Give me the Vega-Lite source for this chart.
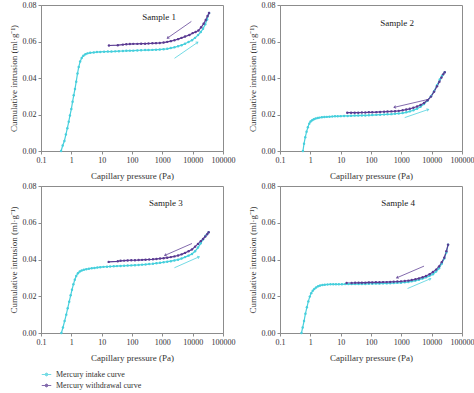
{
  "$schema": "https://vega.github.io/schema/vega-lite/v6.json",
  "padding": {"left": 8, "top": 0, "right": 5, "bottom": 5},
  "config": {
    "font": "Liberation Serif",
    "view": {"stroke": "#8c8c8c", "strokeWidth": 1},
    "axis": {"grid": false, "domainColor": "#8c8c8c", "tickColor": "#8c8c8c", "tickSize": 3, "labelFontSize": 8, "titleFontSize": 9, "titleFontWeight": "normal", "labelColor": "#333", "titleColor": "#333", "labelFont": "Liberation Serif", "titleFont": "Liberation Serif", "labelOverlap": false, "labelFlush": false, "labelPadding": 2},
    "axisX": {"titlePadding": 7},
    "axisY": {"titlePadding": 4},
    "legend": {"labelFont": "Liberation Serif", "labelFontSize": 8, "labelColor": "#333"}
  },
  "datasets": {"all": [
    {"s":"Sample 1","k":"pt","c":"Mercury intake curve","p":0.46,"v":0.000},
    {"s":"Sample 1","k":"pt","c":"Mercury intake curve","p":0.52,"v":0.003},
    {"s":"Sample 1","k":"pt","c":"Mercury intake curve","p":0.59,"v":0.0055},
    {"s":"Sample 1","k":"pt","c":"Mercury intake curve","p":0.66,"v":0.009},
    {"s":"Sample 1","k":"pt","c":"Mercury intake curve","p":0.74,"v":0.0125},
    {"s":"Sample 1","k":"pt","c":"Mercury intake curve","p":0.82,"v":0.016},
    {"s":"Sample 1","k":"pt","c":"Mercury intake curve","p":0.9,"v":0.0195},
    {"s":"Sample 1","k":"pt","c":"Mercury intake curve","p":1.0,"v":0.023},
    {"s":"Sample 1","k":"pt","c":"Mercury intake curve","p":1.1,"v":0.027},
    {"s":"Sample 1","k":"pt","c":"Mercury intake curve","p":1.2,"v":0.0305},
    {"s":"Sample 1","k":"pt","c":"Mercury intake curve","p":1.32,"v":0.034},
    {"s":"Sample 1","k":"pt","c":"Mercury intake curve","p":1.45,"v":0.038},
    {"s":"Sample 1","k":"pt","c":"Mercury intake curve","p":1.6,"v":0.0425},
    {"s":"Sample 1","k":"pt","c":"Mercury intake curve","p":1.75,"v":0.046},
    {"s":"Sample 1","k":"pt","c":"Mercury intake curve","p":1.95,"v":0.049},
    {"s":"Sample 1","k":"pt","c":"Mercury intake curve","p":2.2,"v":0.051},
    {"s":"Sample 1","k":"pt","c":"Mercury intake curve","p":2.5,"v":0.0522},
    {"s":"Sample 1","k":"pt","c":"Mercury intake curve","p":2.9,"v":0.053},
    {"s":"Sample 1","k":"pt","c":"Mercury intake curve","p":3.4,"v":0.0535},
    {"s":"Sample 1","k":"pt","c":"Mercury intake curve","p":4.2,"v":0.0538},
    {"s":"Sample 1","k":"pt","c":"Mercury intake curve","p":5.5,"v":0.054},
    {"s":"Sample 1","k":"pt","c":"Mercury intake curve","p":7,"v":0.0542},
    {"s":"Sample 1","k":"pt","c":"Mercury intake curve","p":9,"v":0.0543},
    {"s":"Sample 1","k":"pt","c":"Mercury intake curve","p":12,"v":0.0544},
    {"s":"Sample 1","k":"pt","c":"Mercury intake curve","p":16,"v":0.0545},
    {"s":"Sample 1","k":"pt","c":"Mercury intake curve","p":21,"v":0.0545},
    {"s":"Sample 1","k":"pt","c":"Mercury intake curve","p":28,"v":0.0546},
    {"s":"Sample 1","k":"pt","c":"Mercury intake curve","p":37,"v":0.0547},
    {"s":"Sample 1","k":"pt","c":"Mercury intake curve","p":50,"v":0.0548},
    {"s":"Sample 1","k":"pt","c":"Mercury intake curve","p":65,"v":0.0549},
    {"s":"Sample 1","k":"pt","c":"Mercury intake curve","p":85,"v":0.055},
    {"s":"Sample 1","k":"pt","c":"Mercury intake curve","p":110,"v":0.055},
    {"s":"Sample 1","k":"pt","c":"Mercury intake curve","p":150,"v":0.0551},
    {"s":"Sample 1","k":"pt","c":"Mercury intake curve","p":200,"v":0.0552},
    {"s":"Sample 1","k":"pt","c":"Mercury intake curve","p":270,"v":0.0553},
    {"s":"Sample 1","k":"pt","c":"Mercury intake curve","p":350,"v":0.0553},
    {"s":"Sample 1","k":"pt","c":"Mercury intake curve","p":470,"v":0.0554},
    {"s":"Sample 1","k":"pt","c":"Mercury intake curve","p":620,"v":0.0555},
    {"s":"Sample 1","k":"pt","c":"Mercury intake curve","p":820,"v":0.0556},
    {"s":"Sample 1","k":"pt","c":"Mercury intake curve","p":1100,"v":0.0558},
    {"s":"Sample 1","k":"pt","c":"Mercury intake curve","p":1450,"v":0.056},
    {"s":"Sample 1","k":"pt","c":"Mercury intake curve","p":1900,"v":0.0564},
    {"s":"Sample 1","k":"pt","c":"Mercury intake curve","p":2500,"v":0.0568},
    {"s":"Sample 1","k":"pt","c":"Mercury intake curve","p":3300,"v":0.0574},
    {"s":"Sample 1","k":"pt","c":"Mercury intake curve","p":4300,"v":0.058},
    {"s":"Sample 1","k":"pt","c":"Mercury intake curve","p":5600,"v":0.0588},
    {"s":"Sample 1","k":"pt","c":"Mercury intake curve","p":7300,"v":0.0597},
    {"s":"Sample 1","k":"pt","c":"Mercury intake curve","p":9500,"v":0.0607},
    {"s":"Sample 1","k":"pt","c":"Mercury intake curve","p":12000,"v":0.062},
    {"s":"Sample 1","k":"pt","c":"Mercury intake curve","p":15000,"v":0.0635},
    {"s":"Sample 1","k":"pt","c":"Mercury intake curve","p":18500,"v":0.0652},
    {"s":"Sample 1","k":"pt","c":"Mercury intake curve","p":22000,"v":0.067},
    {"s":"Sample 1","k":"pt","c":"Mercury intake curve","p":26000,"v":0.0695},
    {"s":"Sample 1","k":"pt","c":"Mercury intake curve","p":30000,"v":0.072},
    {"s":"Sample 1","k":"pt","c":"Mercury intake curve","p":34700,"v":0.0756},
    {"s":"Sample 1","k":"pt","c":"Mercury withdrawal curve","p":34700,"v":0.0756},
    {"s":"Sample 1","k":"pt","c":"Mercury withdrawal curve","p":31000,"v":0.074},
    {"s":"Sample 1","k":"pt","c":"Mercury withdrawal curve","p":27000,"v":0.0718},
    {"s":"Sample 1","k":"pt","c":"Mercury withdrawal curve","p":23000,"v":0.0697},
    {"s":"Sample 1","k":"pt","c":"Mercury withdrawal curve","p":19000,"v":0.0678},
    {"s":"Sample 1","k":"pt","c":"Mercury withdrawal curve","p":15500,"v":0.066},
    {"s":"Sample 1","k":"pt","c":"Mercury withdrawal curve","p":12500,"v":0.0652},
    {"s":"Sample 1","k":"pt","c":"Mercury withdrawal curve","p":10000,"v":0.0646},
    {"s":"Sample 1","k":"pt","c":"Mercury withdrawal curve","p":7800,"v":0.0636},
    {"s":"Sample 1","k":"pt","c":"Mercury withdrawal curve","p":5600,"v":0.0627},
    {"s":"Sample 1","k":"pt","c":"Mercury withdrawal curve","p":4300,"v":0.062},
    {"s":"Sample 1","k":"pt","c":"Mercury withdrawal curve","p":3300,"v":0.0613},
    {"s":"Sample 1","k":"pt","c":"Mercury withdrawal curve","p":2500,"v":0.0607},
    {"s":"Sample 1","k":"pt","c":"Mercury withdrawal curve","p":1900,"v":0.0602},
    {"s":"Sample 1","k":"pt","c":"Mercury withdrawal curve","p":1450,"v":0.0598},
    {"s":"Sample 1","k":"pt","c":"Mercury withdrawal curve","p":1100,"v":0.0594},
    {"s":"Sample 1","k":"pt","c":"Mercury withdrawal curve","p":820,"v":0.0592},
    {"s":"Sample 1","k":"pt","c":"Mercury withdrawal curve","p":620,"v":0.0591},
    {"s":"Sample 1","k":"pt","c":"Mercury withdrawal curve","p":470,"v":0.059},
    {"s":"Sample 1","k":"pt","c":"Mercury withdrawal curve","p":350,"v":0.0589},
    {"s":"Sample 1","k":"pt","c":"Mercury withdrawal curve","p":270,"v":0.0588},
    {"s":"Sample 1","k":"pt","c":"Mercury withdrawal curve","p":200,"v":0.0588},
    {"s":"Sample 1","k":"pt","c":"Mercury withdrawal curve","p":150,"v":0.0587},
    {"s":"Sample 1","k":"pt","c":"Mercury withdrawal curve","p":110,"v":0.0587},
    {"s":"Sample 1","k":"pt","c":"Mercury withdrawal curve","p":85,"v":0.0586},
    {"s":"Sample 1","k":"pt","c":"Mercury withdrawal curve","p":65,"v":0.0585},
    {"s":"Sample 1","k":"pt","c":"Mercury withdrawal curve","p":50,"v":0.0583},
    {"s":"Sample 1","k":"pt","c":"Mercury withdrawal curve","p":34,"v":0.058},
    {"s":"Sample 1","k":"pt","c":"Mercury withdrawal curve","p":17.4,"v":0.0578},
    {"s":"Sample 1","k":"arrow","c":"Mercury withdrawal curve","p":9060,"v":0.071,"p2":1455,"v2":0.0618},
    {"s":"Sample 1","k":"arrow","c":"Mercury intake curve","p":2520,"v":0.0508,"p2":14800,"v2":0.0596},
    {"s":"Sample 1","k":"label","p":780,"v":0.0734,"t":"Sample 1"},

    {"s":"Sample 2","k":"pt","c":"Mercury intake curve","p":0.57,"v":0.000},
    {"s":"Sample 2","k":"pt","c":"Mercury intake curve","p":0.62,"v":0.004},
    {"s":"Sample 2","k":"pt","c":"Mercury intake curve","p":0.68,"v":0.0075},
    {"s":"Sample 2","k":"pt","c":"Mercury intake curve","p":0.75,"v":0.0105},
    {"s":"Sample 2","k":"pt","c":"Mercury intake curve","p":0.83,"v":0.013},
    {"s":"Sample 2","k":"pt","c":"Mercury intake curve","p":0.92,"v":0.015},
    {"s":"Sample 2","k":"pt","c":"Mercury intake curve","p":1.02,"v":0.0162},
    {"s":"Sample 2","k":"pt","c":"Mercury intake curve","p":1.15,"v":0.0169},
    {"s":"Sample 2","k":"pt","c":"Mercury intake curve","p":1.3,"v":0.0174},
    {"s":"Sample 2","k":"pt","c":"Mercury intake curve","p":1.5,"v":0.0178},
    {"s":"Sample 2","k":"pt","c":"Mercury intake curve","p":1.75,"v":0.0181},
    {"s":"Sample 2","k":"pt","c":"Mercury intake curve","p":2.0,"v":0.0183},
    {"s":"Sample 2","k":"pt","c":"Mercury intake curve","p":2.4,"v":0.0185},
    {"s":"Sample 2","k":"pt","c":"Mercury intake curve","p":2.9,"v":0.0186},
    {"s":"Sample 2","k":"pt","c":"Mercury intake curve","p":3.5,"v":0.0187},
    {"s":"Sample 2","k":"pt","c":"Mercury intake curve","p":4.3,"v":0.0188},
    {"s":"Sample 2","k":"pt","c":"Mercury intake curve","p":5.3,"v":0.0189},
    {"s":"Sample 2","k":"pt","c":"Mercury intake curve","p":6.5,"v":0.019},
    {"s":"Sample 2","k":"pt","c":"Mercury intake curve","p":8,"v":0.019},
    {"s":"Sample 2","k":"pt","c":"Mercury intake curve","p":10,"v":0.0191},
    {"s":"Sample 2","k":"pt","c":"Mercury intake curve","p":13,"v":0.0192},
    {"s":"Sample 2","k":"pt","c":"Mercury intake curve","p":17,"v":0.0192},
    {"s":"Sample 2","k":"pt","c":"Mercury intake curve","p":22,"v":0.0193},
    {"s":"Sample 2","k":"pt","c":"Mercury intake curve","p":29,"v":0.0194},
    {"s":"Sample 2","k":"pt","c":"Mercury intake curve","p":38,"v":0.0194},
    {"s":"Sample 2","k":"pt","c":"Mercury intake curve","p":50,"v":0.0195},
    {"s":"Sample 2","k":"pt","c":"Mercury intake curve","p":65,"v":0.0195},
    {"s":"Sample 2","k":"pt","c":"Mercury intake curve","p":85,"v":0.0196},
    {"s":"Sample 2","k":"pt","c":"Mercury intake curve","p":110,"v":0.0197},
    {"s":"Sample 2","k":"pt","c":"Mercury intake curve","p":150,"v":0.0198},
    {"s":"Sample 2","k":"pt","c":"Mercury intake curve","p":200,"v":0.0199},
    {"s":"Sample 2","k":"pt","c":"Mercury intake curve","p":270,"v":0.02},
    {"s":"Sample 2","k":"pt","c":"Mercury intake curve","p":350,"v":0.0201},
    {"s":"Sample 2","k":"pt","c":"Mercury intake curve","p":470,"v":0.0202},
    {"s":"Sample 2","k":"pt","c":"Mercury intake curve","p":620,"v":0.0204},
    {"s":"Sample 2","k":"pt","c":"Mercury intake curve","p":820,"v":0.0206},
    {"s":"Sample 2","k":"pt","c":"Mercury intake curve","p":1100,"v":0.0208},
    {"s":"Sample 2","k":"pt","c":"Mercury intake curve","p":1450,"v":0.0212},
    {"s":"Sample 2","k":"pt","c":"Mercury intake curve","p":1900,"v":0.0217},
    {"s":"Sample 2","k":"pt","c":"Mercury intake curve","p":2500,"v":0.0223},
    {"s":"Sample 2","k":"pt","c":"Mercury intake curve","p":3300,"v":0.0232},
    {"s":"Sample 2","k":"pt","c":"Mercury intake curve","p":4300,"v":0.0243},
    {"s":"Sample 2","k":"pt","c":"Mercury intake curve","p":5600,"v":0.0257},
    {"s":"Sample 2","k":"pt","c":"Mercury intake curve","p":7300,"v":0.0276},
    {"s":"Sample 2","k":"pt","c":"Mercury intake curve","p":9500,"v":0.03},
    {"s":"Sample 2","k":"pt","c":"Mercury intake curve","p":12000,"v":0.0328},
    {"s":"Sample 2","k":"pt","c":"Mercury intake curve","p":15000,"v":0.036},
    {"s":"Sample 2","k":"pt","c":"Mercury intake curve","p":18500,"v":0.0392},
    {"s":"Sample 2","k":"pt","c":"Mercury intake curve","p":22000,"v":0.0412},
    {"s":"Sample 2","k":"pt","c":"Mercury intake curve","p":27000,"v":0.0432},
    {"s":"Sample 2","k":"pt","c":"Mercury withdrawal curve","p":27000,"v":0.0432},
    {"s":"Sample 2","k":"pt","c":"Mercury withdrawal curve","p":24000,"v":0.042},
    {"s":"Sample 2","k":"pt","c":"Mercury withdrawal curve","p":21000,"v":0.0403},
    {"s":"Sample 2","k":"pt","c":"Mercury withdrawal curve","p":18000,"v":0.038},
    {"s":"Sample 2","k":"pt","c":"Mercury withdrawal curve","p":15000,"v":0.0355},
    {"s":"Sample 2","k":"pt","c":"Mercury withdrawal curve","p":12000,"v":0.0325},
    {"s":"Sample 2","k":"pt","c":"Mercury withdrawal curve","p":9500,"v":0.0298},
    {"s":"Sample 2","k":"pt","c":"Mercury withdrawal curve","p":7300,"v":0.0278},
    {"s":"Sample 2","k":"pt","c":"Mercury withdrawal curve","p":5600,"v":0.0263},
    {"s":"Sample 2","k":"pt","c":"Mercury withdrawal curve","p":4300,"v":0.0252},
    {"s":"Sample 2","k":"pt","c":"Mercury withdrawal curve","p":3300,"v":0.0244},
    {"s":"Sample 2","k":"pt","c":"Mercury withdrawal curve","p":2500,"v":0.0237},
    {"s":"Sample 2","k":"pt","c":"Mercury withdrawal curve","p":1900,"v":0.0231},
    {"s":"Sample 2","k":"pt","c":"Mercury withdrawal curve","p":1450,"v":0.0227},
    {"s":"Sample 2","k":"pt","c":"Mercury withdrawal curve","p":1100,"v":0.0223},
    {"s":"Sample 2","k":"pt","c":"Mercury withdrawal curve","p":820,"v":0.022},
    {"s":"Sample 2","k":"pt","c":"Mercury withdrawal curve","p":620,"v":0.0218},
    {"s":"Sample 2","k":"pt","c":"Mercury withdrawal curve","p":470,"v":0.0217},
    {"s":"Sample 2","k":"pt","c":"Mercury withdrawal curve","p":350,"v":0.0216},
    {"s":"Sample 2","k":"pt","c":"Mercury withdrawal curve","p":270,"v":0.0215},
    {"s":"Sample 2","k":"pt","c":"Mercury withdrawal curve","p":200,"v":0.0214},
    {"s":"Sample 2","k":"pt","c":"Mercury withdrawal curve","p":150,"v":0.0213},
    {"s":"Sample 2","k":"pt","c":"Mercury withdrawal curve","p":110,"v":0.0212},
    {"s":"Sample 2","k":"pt","c":"Mercury withdrawal curve","p":85,"v":0.0212},
    {"s":"Sample 2","k":"pt","c":"Mercury withdrawal curve","p":65,"v":0.0211},
    {"s":"Sample 2","k":"pt","c":"Mercury withdrawal curve","p":50,"v":0.0211},
    {"s":"Sample 2","k":"pt","c":"Mercury withdrawal curve","p":38,"v":0.021},
    {"s":"Sample 2","k":"pt","c":"Mercury withdrawal curve","p":29,"v":0.021},
    {"s":"Sample 2","k":"pt","c":"Mercury withdrawal curve","p":22,"v":0.021},
    {"s":"Sample 2","k":"pt","c":"Mercury withdrawal curve","p":16.5,"v":0.021},
    {"s":"Sample 2","k":"arrow","c":"Mercury withdrawal curve","p":8300,"v":0.0284,"p2":575,"v2":0.0239},
    {"s":"Sample 2","k":"arrow","c":"Mercury intake curve","p":1290,"v":0.0183,"p2":7900,"v2":0.0228},
    {"s":"Sample 2","k":"label","p":730,"v":0.070,"t":"Sample 2"},

    {"s":"Sample 3","k":"pt","c":"Mercury intake curve","p":0.47,"v":0.000},
    {"s":"Sample 3","k":"pt","c":"Mercury intake curve","p":0.53,"v":0.003},
    {"s":"Sample 3","k":"pt","c":"Mercury intake curve","p":0.6,"v":0.0065},
    {"s":"Sample 3","k":"pt","c":"Mercury intake curve","p":0.68,"v":0.01},
    {"s":"Sample 3","k":"pt","c":"Mercury intake curve","p":0.76,"v":0.0135},
    {"s":"Sample 3","k":"pt","c":"Mercury intake curve","p":0.85,"v":0.017},
    {"s":"Sample 3","k":"pt","c":"Mercury intake curve","p":0.95,"v":0.0205},
    {"s":"Sample 3","k":"pt","c":"Mercury intake curve","p":1.05,"v":0.0235},
    {"s":"Sample 3","k":"pt","c":"Mercury intake curve","p":1.17,"v":0.0265},
    {"s":"Sample 3","k":"pt","c":"Mercury intake curve","p":1.3,"v":0.029},
    {"s":"Sample 3","k":"pt","c":"Mercury intake curve","p":1.45,"v":0.031},
    {"s":"Sample 3","k":"pt","c":"Mercury intake curve","p":1.65,"v":0.0325},
    {"s":"Sample 3","k":"pt","c":"Mercury intake curve","p":1.9,"v":0.0335},
    {"s":"Sample 3","k":"pt","c":"Mercury intake curve","p":2.2,"v":0.034},
    {"s":"Sample 3","k":"pt","c":"Mercury intake curve","p":2.6,"v":0.0344},
    {"s":"Sample 3","k":"pt","c":"Mercury intake curve","p":3.1,"v":0.0347},
    {"s":"Sample 3","k":"pt","c":"Mercury intake curve","p":3.8,"v":0.035},
    {"s":"Sample 3","k":"pt","c":"Mercury intake curve","p":4.7,"v":0.0352},
    {"s":"Sample 3","k":"pt","c":"Mercury intake curve","p":5.8,"v":0.0354},
    {"s":"Sample 3","k":"pt","c":"Mercury intake curve","p":7.2,"v":0.0356},
    {"s":"Sample 3","k":"pt","c":"Mercury intake curve","p":9,"v":0.0358},
    {"s":"Sample 3","k":"pt","c":"Mercury intake curve","p":11.5,"v":0.036},
    {"s":"Sample 3","k":"pt","c":"Mercury intake curve","p":15,"v":0.0361},
    {"s":"Sample 3","k":"pt","c":"Mercury intake curve","p":19,"v":0.0362},
    {"s":"Sample 3","k":"pt","c":"Mercury intake curve","p":25,"v":0.0363},
    {"s":"Sample 3","k":"pt","c":"Mercury intake curve","p":32,"v":0.0364},
    {"s":"Sample 3","k":"pt","c":"Mercury intake curve","p":42,"v":0.0365},
    {"s":"Sample 3","k":"pt","c":"Mercury intake curve","p":55,"v":0.0366},
    {"s":"Sample 3","k":"pt","c":"Mercury intake curve","p":72,"v":0.0367},
    {"s":"Sample 3","k":"pt","c":"Mercury intake curve","p":95,"v":0.0368},
    {"s":"Sample 3","k":"pt","c":"Mercury intake curve","p":125,"v":0.0369},
    {"s":"Sample 3","k":"pt","c":"Mercury intake curve","p":165,"v":0.037},
    {"s":"Sample 3","k":"pt","c":"Mercury intake curve","p":215,"v":0.0372},
    {"s":"Sample 3","k":"pt","c":"Mercury intake curve","p":280,"v":0.0373},
    {"s":"Sample 3","k":"pt","c":"Mercury intake curve","p":370,"v":0.0375},
    {"s":"Sample 3","k":"pt","c":"Mercury intake curve","p":490,"v":0.0377},
    {"s":"Sample 3","k":"pt","c":"Mercury intake curve","p":640,"v":0.038},
    {"s":"Sample 3","k":"pt","c":"Mercury intake curve","p":840,"v":0.0382},
    {"s":"Sample 3","k":"pt","c":"Mercury intake curve","p":1100,"v":0.0385},
    {"s":"Sample 3","k":"pt","c":"Mercury intake curve","p":1450,"v":0.0388},
    {"s":"Sample 3","k":"pt","c":"Mercury intake curve","p":1900,"v":0.0391},
    {"s":"Sample 3","k":"pt","c":"Mercury intake curve","p":2500,"v":0.0395},
    {"s":"Sample 3","k":"pt","c":"Mercury intake curve","p":3300,"v":0.0399},
    {"s":"Sample 3","k":"pt","c":"Mercury intake curve","p":4300,"v":0.0405},
    {"s":"Sample 3","k":"pt","c":"Mercury intake curve","p":5600,"v":0.0413},
    {"s":"Sample 3","k":"pt","c":"Mercury intake curve","p":7300,"v":0.0421},
    {"s":"Sample 3","k":"pt","c":"Mercury intake curve","p":9500,"v":0.043},
    {"s":"Sample 3","k":"pt","c":"Mercury intake curve","p":12000,"v":0.0445},
    {"s":"Sample 3","k":"pt","c":"Mercury intake curve","p":15000,"v":0.0465},
    {"s":"Sample 3","k":"pt","c":"Mercury intake curve","p":18500,"v":0.0488},
    {"s":"Sample 3","k":"pt","c":"Mercury intake curve","p":22000,"v":0.051},
    {"s":"Sample 3","k":"pt","c":"Mercury intake curve","p":27000,"v":0.053},
    {"s":"Sample 3","k":"pt","c":"Mercury intake curve","p":33700,"v":0.0548},
    {"s":"Sample 3","k":"pt","c":"Mercury withdrawal curve","p":33700,"v":0.0548},
    {"s":"Sample 3","k":"pt","c":"Mercury withdrawal curve","p":30000,"v":0.0537},
    {"s":"Sample 3","k":"pt","c":"Mercury withdrawal curve","p":26000,"v":0.0525},
    {"s":"Sample 3","k":"pt","c":"Mercury withdrawal curve","p":22000,"v":0.0512},
    {"s":"Sample 3","k":"pt","c":"Mercury withdrawal curve","p":18500,"v":0.05},
    {"s":"Sample 3","k":"pt","c":"Mercury withdrawal curve","p":15000,"v":0.0485},
    {"s":"Sample 3","k":"pt","c":"Mercury withdrawal curve","p":12000,"v":0.047},
    {"s":"Sample 3","k":"pt","c":"Mercury withdrawal curve","p":9500,"v":0.0455},
    {"s":"Sample 3","k":"pt","c":"Mercury withdrawal curve","p":7300,"v":0.0445},
    {"s":"Sample 3","k":"pt","c":"Mercury withdrawal curve","p":5600,"v":0.0436},
    {"s":"Sample 3","k":"pt","c":"Mercury withdrawal curve","p":4300,"v":0.0428},
    {"s":"Sample 3","k":"pt","c":"Mercury withdrawal curve","p":3300,"v":0.0422},
    {"s":"Sample 3","k":"pt","c":"Mercury withdrawal curve","p":2500,"v":0.0417},
    {"s":"Sample 3","k":"pt","c":"Mercury withdrawal curve","p":1900,"v":0.0413},
    {"s":"Sample 3","k":"pt","c":"Mercury withdrawal curve","p":1450,"v":0.041},
    {"s":"Sample 3","k":"pt","c":"Mercury withdrawal curve","p":1100,"v":0.0407},
    {"s":"Sample 3","k":"pt","c":"Mercury withdrawal curve","p":840,"v":0.0405},
    {"s":"Sample 3","k":"pt","c":"Mercury withdrawal curve","p":640,"v":0.0403},
    {"s":"Sample 3","k":"pt","c":"Mercury withdrawal curve","p":490,"v":0.0401},
    {"s":"Sample 3","k":"pt","c":"Mercury withdrawal curve","p":370,"v":0.04},
    {"s":"Sample 3","k":"pt","c":"Mercury withdrawal curve","p":280,"v":0.0399},
    {"s":"Sample 3","k":"pt","c":"Mercury withdrawal curve","p":215,"v":0.0398},
    {"s":"Sample 3","k":"pt","c":"Mercury withdrawal curve","p":165,"v":0.0397},
    {"s":"Sample 3","k":"pt","c":"Mercury withdrawal curve","p":125,"v":0.0396},
    {"s":"Sample 3","k":"pt","c":"Mercury withdrawal curve","p":95,"v":0.0396},
    {"s":"Sample 3","k":"pt","c":"Mercury withdrawal curve","p":72,"v":0.0395},
    {"s":"Sample 3","k":"pt","c":"Mercury withdrawal curve","p":55,"v":0.0394},
    {"s":"Sample 3","k":"pt","c":"Mercury withdrawal curve","p":42,"v":0.0393},
    {"s":"Sample 3","k":"pt","c":"Mercury withdrawal curve","p":34,"v":0.039},
    {"s":"Sample 3","k":"pt","c":"Mercury withdrawal curve","p":17,"v":0.0387},
    {"s":"Sample 3","k":"arrow","c":"Mercury withdrawal curve","p":9500,"v":0.0487,"p2":1200,"v2":0.0422},
    {"s":"Sample 3","k":"arrow","c":"Mercury intake curve","p":2500,"v":0.0355,"p2":16500,"v2":0.0415},
    {"s":"Sample 3","k":"label","p":1320,"v":0.0709,"t":"Sample 3"},

    {"s":"Sample 4","k":"pt","c":"Mercury intake curve","p":0.51,"v":0.000},
    {"s":"Sample 4","k":"pt","c":"Mercury intake curve","p":0.56,"v":0.003},
    {"s":"Sample 4","k":"pt","c":"Mercury intake curve","p":0.62,"v":0.0065},
    {"s":"Sample 4","k":"pt","c":"Mercury intake curve","p":0.69,"v":0.0105},
    {"s":"Sample 4","k":"pt","c":"Mercury intake curve","p":0.77,"v":0.014},
    {"s":"Sample 4","k":"pt","c":"Mercury intake curve","p":0.86,"v":0.0172},
    {"s":"Sample 4","k":"pt","c":"Mercury intake curve","p":0.96,"v":0.0198},
    {"s":"Sample 4","k":"pt","c":"Mercury intake curve","p":1.07,"v":0.0217},
    {"s":"Sample 4","k":"pt","c":"Mercury intake curve","p":1.2,"v":0.023},
    {"s":"Sample 4","k":"pt","c":"Mercury intake curve","p":1.35,"v":0.024},
    {"s":"Sample 4","k":"pt","c":"Mercury intake curve","p":1.55,"v":0.0248},
    {"s":"Sample 4","k":"pt","c":"Mercury intake curve","p":1.8,"v":0.0254},
    {"s":"Sample 4","k":"pt","c":"Mercury intake curve","p":2.1,"v":0.0258},
    {"s":"Sample 4","k":"pt","c":"Mercury intake curve","p":2.5,"v":0.0261},
    {"s":"Sample 4","k":"pt","c":"Mercury intake curve","p":3,"v":0.0263},
    {"s":"Sample 4","k":"pt","c":"Mercury intake curve","p":3.7,"v":0.0264},
    {"s":"Sample 4","k":"pt","c":"Mercury intake curve","p":4.6,"v":0.0265},
    {"s":"Sample 4","k":"pt","c":"Mercury intake curve","p":5.7,"v":0.0265},
    {"s":"Sample 4","k":"pt","c":"Mercury intake curve","p":7,"v":0.0265},
    {"s":"Sample 4","k":"pt","c":"Mercury intake curve","p":8.7,"v":0.0265},
    {"s":"Sample 4","k":"pt","c":"Mercury intake curve","p":11,"v":0.0265},
    {"s":"Sample 4","k":"pt","c":"Mercury intake curve","p":14,"v":0.0266},
    {"s":"Sample 4","k":"pt","c":"Mercury intake curve","p":18,"v":0.0266},
    {"s":"Sample 4","k":"pt","c":"Mercury intake curve","p":23,"v":0.0266},
    {"s":"Sample 4","k":"pt","c":"Mercury intake curve","p":30,"v":0.0266},
    {"s":"Sample 4","k":"pt","c":"Mercury intake curve","p":39,"v":0.0267},
    {"s":"Sample 4","k":"pt","c":"Mercury intake curve","p":50,"v":0.0267},
    {"s":"Sample 4","k":"pt","c":"Mercury intake curve","p":65,"v":0.0267},
    {"s":"Sample 4","k":"pt","c":"Mercury intake curve","p":85,"v":0.0268},
    {"s":"Sample 4","k":"pt","c":"Mercury intake curve","p":110,"v":0.0268},
    {"s":"Sample 4","k":"pt","c":"Mercury intake curve","p":145,"v":0.0269},
    {"s":"Sample 4","k":"pt","c":"Mercury intake curve","p":190,"v":0.0269},
    {"s":"Sample 4","k":"pt","c":"Mercury intake curve","p":250,"v":0.027},
    {"s":"Sample 4","k":"pt","c":"Mercury intake curve","p":330,"v":0.027},
    {"s":"Sample 4","k":"pt","c":"Mercury intake curve","p":430,"v":0.0271},
    {"s":"Sample 4","k":"pt","c":"Mercury intake curve","p":560,"v":0.0272},
    {"s":"Sample 4","k":"pt","c":"Mercury intake curve","p":740,"v":0.0273},
    {"s":"Sample 4","k":"pt","c":"Mercury intake curve","p":970,"v":0.0274},
    {"s":"Sample 4","k":"pt","c":"Mercury intake curve","p":1300,"v":0.0276},
    {"s":"Sample 4","k":"pt","c":"Mercury intake curve","p":1700,"v":0.0278},
    {"s":"Sample 4","k":"pt","c":"Mercury intake curve","p":2200,"v":0.0281},
    {"s":"Sample 4","k":"pt","c":"Mercury intake curve","p":2900,"v":0.0285},
    {"s":"Sample 4","k":"pt","c":"Mercury intake curve","p":3800,"v":0.029},
    {"s":"Sample 4","k":"pt","c":"Mercury intake curve","p":5000,"v":0.0296},
    {"s":"Sample 4","k":"pt","c":"Mercury intake curve","p":6500,"v":0.0303},
    {"s":"Sample 4","k":"pt","c":"Mercury intake curve","p":8500,"v":0.0311},
    {"s":"Sample 4","k":"pt","c":"Mercury intake curve","p":11000,"v":0.032},
    {"s":"Sample 4","k":"pt","c":"Mercury intake curve","p":14000,"v":0.0335},
    {"s":"Sample 4","k":"pt","c":"Mercury intake curve","p":17500,"v":0.0352},
    {"s":"Sample 4","k":"pt","c":"Mercury intake curve","p":21500,"v":0.0377},
    {"s":"Sample 4","k":"pt","c":"Mercury intake curve","p":26000,"v":0.0405},
    {"s":"Sample 4","k":"pt","c":"Mercury intake curve","p":30500,"v":0.0438},
    {"s":"Sample 4","k":"pt","c":"Mercury intake curve","p":34700,"v":0.048},
    {"s":"Sample 4","k":"pt","c":"Mercury withdrawal curve","p":34700,"v":0.048},
    {"s":"Sample 4","k":"pt","c":"Mercury withdrawal curve","p":30500,"v":0.0445},
    {"s":"Sample 4","k":"pt","c":"Mercury withdrawal curve","p":26000,"v":0.041},
    {"s":"Sample 4","k":"pt","c":"Mercury withdrawal curve","p":21500,"v":0.0385},
    {"s":"Sample 4","k":"pt","c":"Mercury withdrawal curve","p":17500,"v":0.0362},
    {"s":"Sample 4","k":"pt","c":"Mercury withdrawal curve","p":14000,"v":0.0345},
    {"s":"Sample 4","k":"pt","c":"Mercury withdrawal curve","p":11000,"v":0.0332},
    {"s":"Sample 4","k":"pt","c":"Mercury withdrawal curve","p":8500,"v":0.032},
    {"s":"Sample 4","k":"pt","c":"Mercury withdrawal curve","p":6500,"v":0.031},
    {"s":"Sample 4","k":"pt","c":"Mercury withdrawal curve","p":5000,"v":0.0303},
    {"s":"Sample 4","k":"pt","c":"Mercury withdrawal curve","p":3800,"v":0.0297},
    {"s":"Sample 4","k":"pt","c":"Mercury withdrawal curve","p":2900,"v":0.0292},
    {"s":"Sample 4","k":"pt","c":"Mercury withdrawal curve","p":2200,"v":0.0288},
    {"s":"Sample 4","k":"pt","c":"Mercury withdrawal curve","p":1700,"v":0.0285},
    {"s":"Sample 4","k":"pt","c":"Mercury withdrawal curve","p":1300,"v":0.0283},
    {"s":"Sample 4","k":"pt","c":"Mercury withdrawal curve","p":970,"v":0.0281},
    {"s":"Sample 4","k":"pt","c":"Mercury withdrawal curve","p":740,"v":0.028},
    {"s":"Sample 4","k":"pt","c":"Mercury withdrawal curve","p":560,"v":0.0279},
    {"s":"Sample 4","k":"pt","c":"Mercury withdrawal curve","p":430,"v":0.0278},
    {"s":"Sample 4","k":"pt","c":"Mercury withdrawal curve","p":330,"v":0.0277},
    {"s":"Sample 4","k":"pt","c":"Mercury withdrawal curve","p":250,"v":0.0277},
    {"s":"Sample 4","k":"pt","c":"Mercury withdrawal curve","p":190,"v":0.0276},
    {"s":"Sample 4","k":"pt","c":"Mercury withdrawal curve","p":145,"v":0.0276},
    {"s":"Sample 4","k":"pt","c":"Mercury withdrawal curve","p":110,"v":0.0275},
    {"s":"Sample 4","k":"pt","c":"Mercury withdrawal curve","p":85,"v":0.0275},
    {"s":"Sample 4","k":"pt","c":"Mercury withdrawal curve","p":65,"v":0.0274},
    {"s":"Sample 4","k":"pt","c":"Mercury withdrawal curve","p":50,"v":0.0274},
    {"s":"Sample 4","k":"pt","c":"Mercury withdrawal curve","p":39,"v":0.0273},
    {"s":"Sample 4","k":"pt","c":"Mercury withdrawal curve","p":30,"v":0.0273},
    {"s":"Sample 4","k":"pt","c":"Mercury withdrawal curve","p":23,"v":0.0272},
    {"s":"Sample 4","k":"pt","c":"Mercury withdrawal curve","p":15.7,"v":0.0272},
    {"s":"Sample 4","k":"arrow","c":"Mercury withdrawal curve","p":5600,"v":0.0364,"p2":700,"v2":0.03},
    {"s":"Sample 4","k":"arrow","c":"Mercury intake curve","p":1600,"v":0.0242,"p2":9300,"v2":0.0296},
    {"s":"Sample 4","k":"label","p":790,"v":0.0709,"t":"Sample 4"}
  ]},
  "spacing": 0,
  "vconcat": [
    {"hconcat": [
      {"width": 182, "height": 146, "data": {"name": "all"}, "transform": [{"filter": "datum.s === 'Sample 1'"}],
       "layer": [
        {"transform": [{"filter": "datum.k === 'arrow'"}], "mark": {"type": "rule", "strokeWidth": 1, "opacity": 0.75},
         "encoding": {"x": {"field": "p", "type": "quantitative"}, "y": {"field": "v", "type": "quantitative"}, "x2": {"field": "p2"}, "y2": {"field": "v2"}, "color": {"field": "c", "type": "nominal"}}},
        {"transform": [{"filter": "datum.k === 'arrow' && datum.c === 'Mercury intake curve'"}], "mark": {"type": "point", "filled": false, "size": 14, "strokeWidth": 1, "angle": -28, "opacity": 0.75, "shape": "M-1,-0.7L0,0L-1,0.7"},
         "encoding": {"x": {"field": "p2", "type": "quantitative"}, "y": {"field": "v2", "type": "quantitative"}, "color": {"field": "c", "type": "nominal"}}},
        {"transform": [{"filter": "datum.k === 'arrow' && datum.c === 'Mercury withdrawal curve'"}], "mark": {"type": "point", "filled": false, "size": 14, "strokeWidth": 1, "angle": -32, "opacity": 0.75, "shape": "M1,-0.7L0,0L1,0.7"},
         "encoding": {"x": {"field": "p2", "type": "quantitative"}, "y": {"field": "v2", "type": "quantitative"}, "color": {"field": "c", "type": "nominal"}}},
        {"transform": [{"filter": "datum.k === 'pt'"}], "mark": {"type": "line", "strokeWidth": 1.2},
         "encoding": {
          "x": {"field": "p", "type": "quantitative", "scale": {"type": "log", "domain": [0.1, 100000]}, "axis": {"title": "Capillary pressure (Pa)", "values": [0.1, 1, 10, 100, 1000, 10000, 100000], "format": "~g"}},
          "y": {"field": "v", "type": "quantitative", "scale": {"domain": [0, 0.08]}, "axis": {"title": "Cumulative intrusion (ml·g⁻¹)", "tickCount": 4, "format": ".2f"}},
          "color": {"field": "c", "type": "nominal", "title": null, "scale": {"domain": ["Mercury intake curve", "Mercury withdrawal curve"], "range": ["#46cfdc", "#5a3a92"]},
                    "legend": {"orient": "bottom", "direction": "vertical", "symbolType": "M-1,0L1,0M-0.3,0A0.3,0.3,0,1,1,0.3,0A0.3,0.3,0,1,1,-0.3,0Z", "symbolSize": 90, "symbolStrokeWidth": 1, "rowPadding": 1, "offset": 6}},
          "order": {"field": "p", "type": "quantitative"}}},
        {"transform": [{"filter": "datum.k === 'pt'"}], "mark": {"type": "point", "filled": true, "size": 6, "opacity": 1},
         "encoding": {"x": {"field": "p", "type": "quantitative"}, "y": {"field": "v", "type": "quantitative"}, "color": {"field": "c", "type": "nominal"}}},
        {"transform": [{"filter": "datum.k === 'label'"}], "mark": {"type": "text", "fontSize": 9, "color": "#222", "align": "center"},
         "encoding": {"x": {"field": "p", "type": "quantitative"}, "y": {"field": "v", "type": "quantitative"}, "text": {"field": "t"}}}
       ]},
      {"width": 182, "height": 146, "data": {"name": "all"}, "transform": [{"filter": "datum.s === 'Sample 2'"}],
       "layer": [
        {"transform": [{"filter": "datum.k === 'arrow'"}], "mark": {"type": "rule", "strokeWidth": 1, "opacity": 0.75},
         "encoding": {"x": {"field": "p", "type": "quantitative"}, "y": {"field": "v", "type": "quantitative"}, "x2": {"field": "p2"}, "y2": {"field": "v2"}, "color": {"field": "c", "type": "nominal"}}},
        {"transform": [{"filter": "datum.k === 'arrow' && datum.c === 'Mercury intake curve'"}], "mark": {"type": "point", "filled": false, "size": 14, "strokeWidth": 1, "angle": -17, "opacity": 0.75, "shape": "M-1,-0.7L0,0L-1,0.7"},
         "encoding": {"x": {"field": "p2", "type": "quantitative"}, "y": {"field": "v2", "type": "quantitative"}, "color": {"field": "c", "type": "nominal"}}},
        {"transform": [{"filter": "datum.k === 'arrow' && datum.c === 'Mercury withdrawal curve'"}], "mark": {"type": "point", "filled": false, "size": 14, "strokeWidth": 1, "angle": -13, "opacity": 0.75, "shape": "M1,-0.7L0,0L1,0.7"},
         "encoding": {"x": {"field": "p2", "type": "quantitative"}, "y": {"field": "v2", "type": "quantitative"}, "color": {"field": "c", "type": "nominal"}}},
        {"transform": [{"filter": "datum.k === 'pt'"}], "mark": {"type": "line", "strokeWidth": 1.2},
         "encoding": {
          "x": {"field": "p", "type": "quantitative", "scale": {"type": "log", "domain": [0.1, 100000]}, "axis": {"title": "Capillary pressure (Pa)", "values": [0.1, 1, 10, 100, 1000, 10000, 100000], "format": "~g"}},
          "y": {"field": "v", "type": "quantitative", "scale": {"domain": [0, 0.08]}, "axis": {"title": "Cumulative intrusion (ml·g⁻¹)", "tickCount": 4, "format": ".2f"}},
          "color": {"field": "c", "type": "nominal"},
          "order": {"field": "p", "type": "quantitative"}}},
        {"transform": [{"filter": "datum.k === 'pt'"}], "mark": {"type": "point", "filled": true, "size": 6, "opacity": 1},
         "encoding": {"x": {"field": "p", "type": "quantitative"}, "y": {"field": "v", "type": "quantitative"}, "color": {"field": "c", "type": "nominal"}}},
        {"transform": [{"filter": "datum.k === 'label'"}], "mark": {"type": "text", "fontSize": 9, "color": "#222", "align": "center"},
         "encoding": {"x": {"field": "p", "type": "quantitative"}, "y": {"field": "v", "type": "quantitative"}, "text": {"field": "t"}}}
       ]}
    ], "spacing": 57, "bounds": "flush"},
    {"hconcat": [
      {"width": 182, "height": 147, "data": {"name": "all"}, "transform": [{"filter": "datum.s === 'Sample 3'"}],
       "layer": [
        {"transform": [{"filter": "datum.k === 'arrow'"}], "mark": {"type": "rule", "strokeWidth": 1, "opacity": 0.75},
         "encoding": {"x": {"field": "p", "type": "quantitative"}, "y": {"field": "v", "type": "quantitative"}, "x2": {"field": "p2"}, "y2": {"field": "v2"}, "color": {"field": "c", "type": "nominal"}}},
        {"transform": [{"filter": "datum.k === 'arrow' && datum.c === 'Mercury intake curve'"}], "mark": {"type": "point", "filled": false, "size": 14, "strokeWidth": 1, "angle": -24, "opacity": 0.75, "shape": "M-1,-0.7L0,0L-1,0.7"},
         "encoding": {"x": {"field": "p2", "type": "quantitative"}, "y": {"field": "v2", "type": "quantitative"}, "color": {"field": "c", "type": "nominal"}}},
        {"transform": [{"filter": "datum.k === 'arrow' && datum.c === 'Mercury withdrawal curve'"}], "mark": {"type": "point", "filled": false, "size": 14, "strokeWidth": 1, "angle": -24, "opacity": 0.75, "shape": "M1,-0.7L0,0L1,0.7"},
         "encoding": {"x": {"field": "p2", "type": "quantitative"}, "y": {"field": "v2", "type": "quantitative"}, "color": {"field": "c", "type": "nominal"}}},
        {"transform": [{"filter": "datum.k === 'pt'"}], "mark": {"type": "line", "strokeWidth": 1.2},
         "encoding": {
          "x": {"field": "p", "type": "quantitative", "scale": {"type": "log", "domain": [0.1, 100000]}, "axis": {"title": "Capillary pressure (Pa)", "values": [0.1, 1, 10, 100, 1000, 10000, 100000], "format": "~g"}},
          "y": {"field": "v", "type": "quantitative", "scale": {"domain": [0, 0.08]}, "axis": {"title": "Cumulative intrusion (ml·g⁻¹)", "tickCount": 4, "format": ".2f"}},
          "color": {"field": "c", "type": "nominal"},
          "order": {"field": "p", "type": "quantitative"}}},
        {"transform": [{"filter": "datum.k === 'pt'"}], "mark": {"type": "point", "filled": true, "size": 6, "opacity": 1},
         "encoding": {"x": {"field": "p", "type": "quantitative"}, "y": {"field": "v", "type": "quantitative"}, "color": {"field": "c", "type": "nominal"}}},
        {"transform": [{"filter": "datum.k === 'label'"}], "mark": {"type": "text", "fontSize": 9, "color": "#222", "align": "center"},
         "encoding": {"x": {"field": "p", "type": "quantitative"}, "y": {"field": "v", "type": "quantitative"}, "text": {"field": "t"}}}
       ]},
      {"width": 182, "height": 147, "data": {"name": "all"}, "transform": [{"filter": "datum.s === 'Sample 4'"}],
       "layer": [
        {"transform": [{"filter": "datum.k === 'arrow'"}], "mark": {"type": "rule", "strokeWidth": 1, "opacity": 0.75},
         "encoding": {"x": {"field": "p", "type": "quantitative"}, "y": {"field": "v", "type": "quantitative"}, "x2": {"field": "p2"}, "y2": {"field": "v2"}, "color": {"field": "c", "type": "nominal"}}},
        {"transform": [{"filter": "datum.k === 'arrow' && datum.c === 'Mercury intake curve'"}], "mark": {"type": "point", "filled": false, "size": 14, "strokeWidth": 1, "angle": -23, "opacity": 0.75, "shape": "M-1,-0.7L0,0L-1,0.7"},
         "encoding": {"x": {"field": "p2", "type": "quantitative"}, "y": {"field": "v2", "type": "quantitative"}, "color": {"field": "c", "type": "nominal"}}},
        {"transform": [{"filter": "datum.k === 'arrow' && datum.c === 'Mercury withdrawal curve'"}], "mark": {"type": "point", "filled": false, "size": 14, "strokeWidth": 1, "angle": -23, "opacity": 0.75, "shape": "M1,-0.7L0,0L1,0.7"},
         "encoding": {"x": {"field": "p2", "type": "quantitative"}, "y": {"field": "v2", "type": "quantitative"}, "color": {"field": "c", "type": "nominal"}}},
        {"transform": [{"filter": "datum.k === 'pt'"}], "mark": {"type": "line", "strokeWidth": 1.2},
         "encoding": {
          "x": {"field": "p", "type": "quantitative", "scale": {"type": "log", "domain": [0.1, 100000]}, "axis": {"title": "Capillary pressure (Pa)", "values": [0.1, 1, 10, 100, 1000, 10000, 100000], "format": "~g"}},
          "y": {"field": "v", "type": "quantitative", "scale": {"domain": [0, 0.08]}, "axis": {"title": "Cumulative intrusion (ml·g⁻¹)", "tickCount": 4, "format": ".2f"}},
          "color": {"field": "c", "type": "nominal"},
          "order": {"field": "p", "type": "quantitative"}}},
        {"transform": [{"filter": "datum.k === 'pt'"}], "mark": {"type": "point", "filled": true, "size": 6, "opacity": 1},
         "encoding": {"x": {"field": "p", "type": "quantitative"}, "y": {"field": "v", "type": "quantitative"}, "color": {"field": "c", "type": "nominal"}}},
        {"transform": [{"filter": "datum.k === 'label'"}], "mark": {"type": "text", "fontSize": 9, "color": "#222", "align": "center"},
         "encoding": {"x": {"field": "p", "type": "quantitative"}, "y": {"field": "v", "type": "quantitative"}, "text": {"field": "t"}}}
       ]}
    ], "spacing": 57, "bounds": "flush"}
  ]
}
